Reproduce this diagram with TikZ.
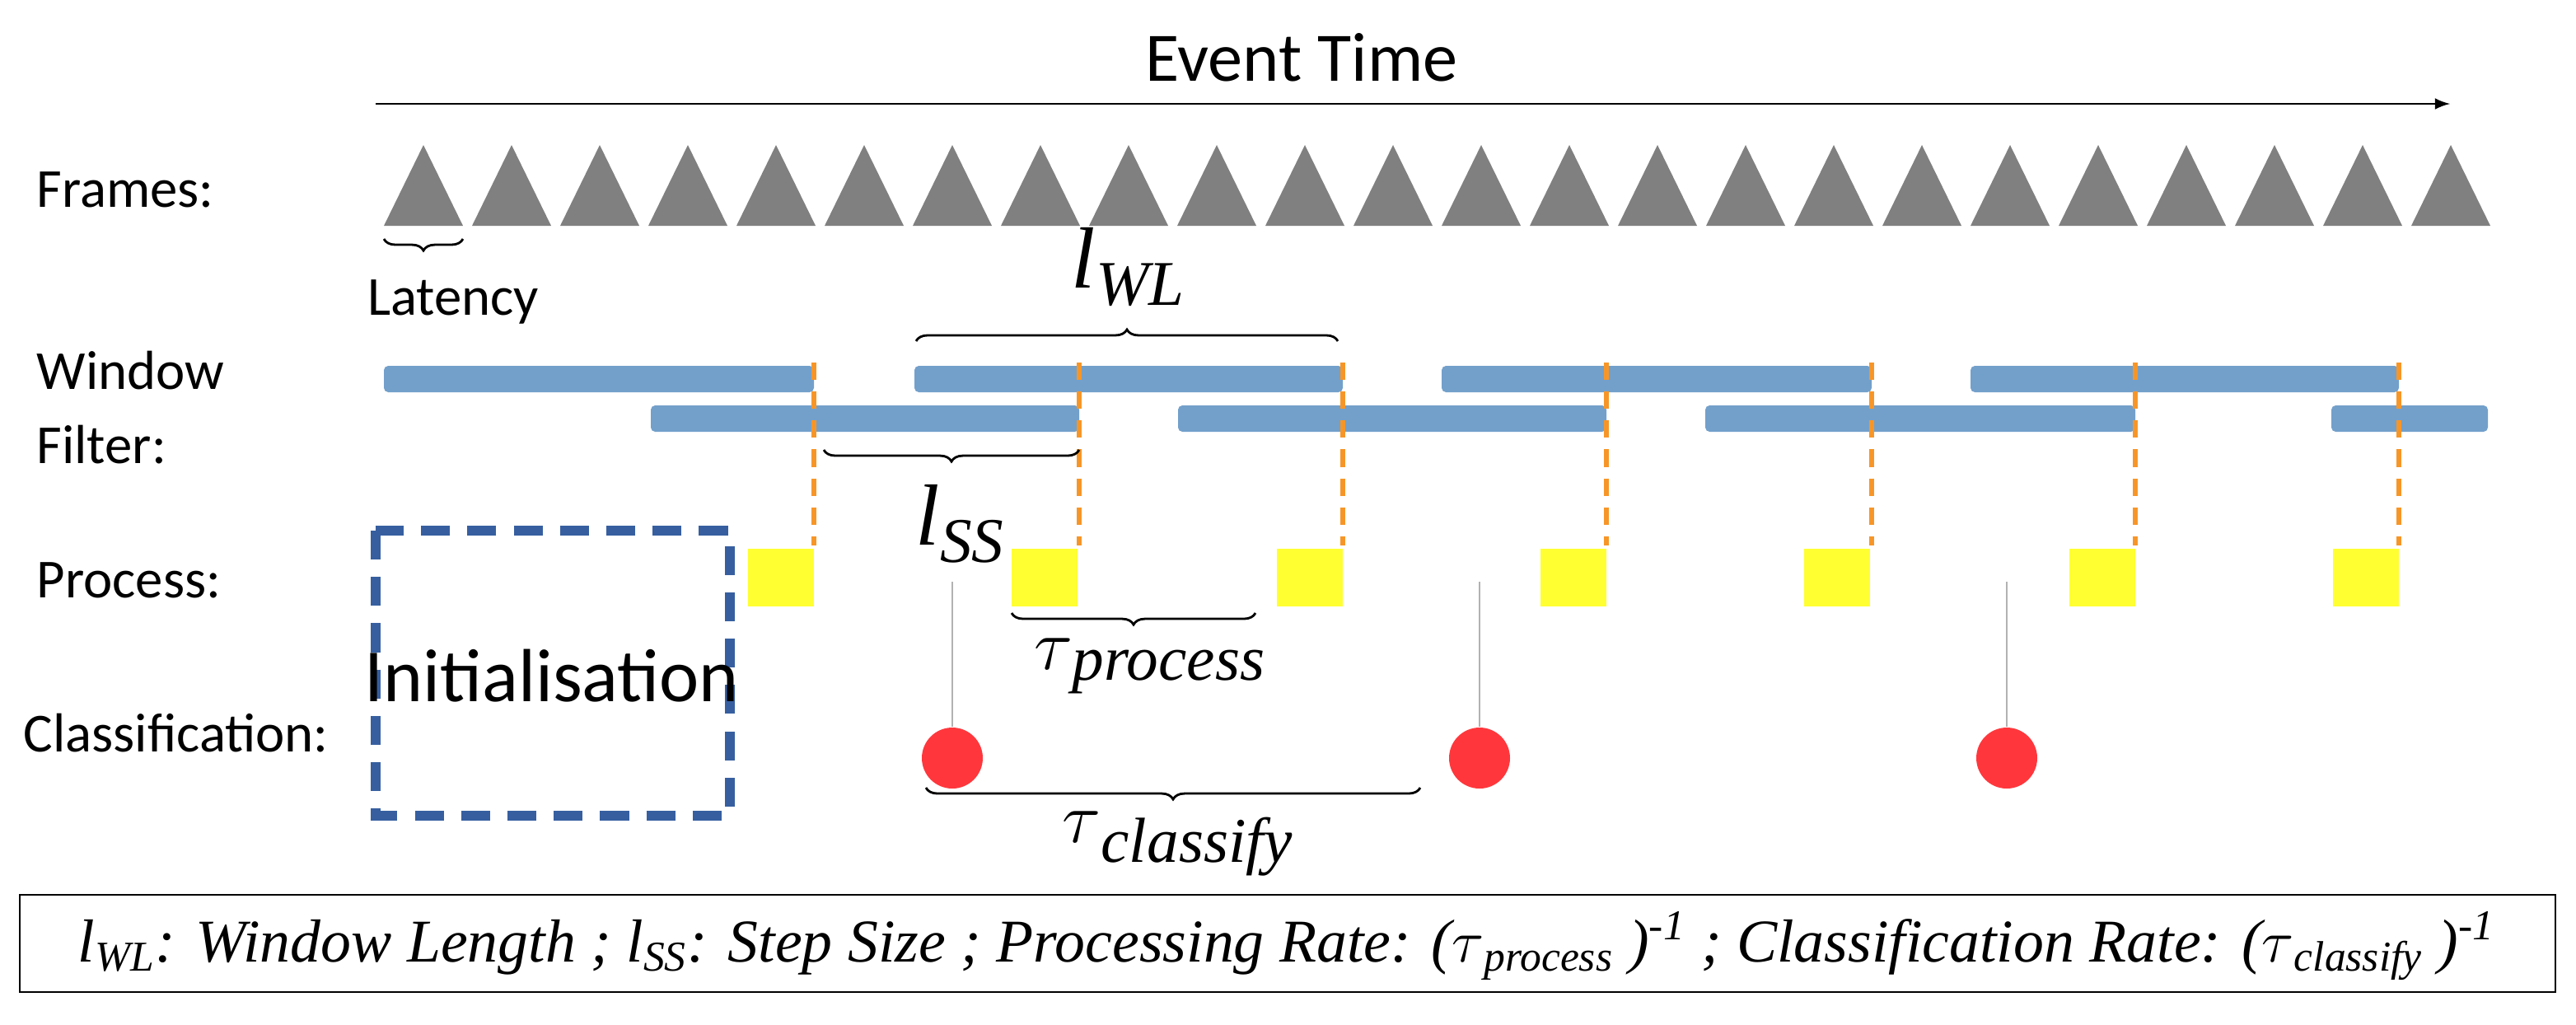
\documentclass[tikz,border=0pt]{standalone}
\usepackage{fontspec}
\setmainfont{Carlito}
\newfontfamily\tms{Liberation Serif}
\usetikzlibrary{decorations.pathreplacing}
\definecolor{bar}{RGB}{115,160,203}
\definecolor{tri}{RGB}{128,128,128}
\definecolor{org}{RGB}{247,150,40}
\definecolor{ylw}{RGB}{255,255,50}
\definecolor{rd}{RGB}{255,55,60}
\definecolor{ibox}{RGB}{55,95,160}
\tikzset{
 lab/.style={font=\fontsize{19}{22}\selectfont,anchor=west,inner sep=0},
 mth/.style={font=\tms\itshape\fontsize{30}{32}\selectfont,inner sep=0},
 br/.style={decorate,decoration={brace,amplitude=4pt},thick},
 wbar/.style={fill=bar,rounded corners=1.5pt},
 proc/.style={fill=ylw,draw=none,minimum width=0.8cm,minimum height=0.7cm,inner sep=0},
 cls/.style={circle,fill=rd,minimum size=0.74cm,inner sep=0},
 odash/.style={org,line width=1.6pt,dash pattern=on 6pt off 4pt}
}
\begin{document}
\begin{tikzpicture}[x=0.02cm,y=-0.02cm]
\useasboundingbox (0,0) rectangle (1563.5,621.5);
\node[font=\fontsize{24}{28}\selectfont] (et) at (790,35) {Event Time};
\coordinate (a1) at (228,63); \coordinate (a2) at (1487,63);
\draw[-latex,thick] (a1) -- (a2);
\node[lab] (fr) at (22,115) {Frames:};
\foreach \i in {0,...,23}{
  \fill[tri] ({233+53.5*\i},137) -- ({257+53.5*\i},88) -- ({281+53.5*\i},137) -- cycle;}
\draw[br,decoration={mirror}] (233,145) -- (281,145);
\node[lab,anchor=center] (lat) at (275,183) {Latency};
\node[lab] (wf) at (22,225) {Window};
\node[lab] (wf2) at (22,270) {Filter:};
\node[lab] (pr) at (22,352) {Process:};
\node[lab] (cl) at (14,445) {Classification:};
% bars
\foreach \a/\b in {233/494,555/815,875/1136,1196/1456}{\fill[wbar] (\a,222) rectangle (\b,238);}
\foreach \a/\b in {395/655,715/975,1035/1296,1415/1510}{\fill[wbar] (\a,246) rectangle (\b,262);}
\foreach \x in {494,655,815,975,1136,1296,1456}{\draw[odash] (\x,220) -- (\x,331);}
\foreach \x in {454,614,775,935,1095,1256,1416}{\fill[ylw] (\x,333) rectangle (\x+40,368);}
% braces
\draw[br] (556,207) -- (812,207);
\node[mth] (lwl) at (685,162) {l\textsubscript{\fontsize{22}{24}\selectfont WL}};
\draw[br,decoration={mirror}] (500,273) -- (655,273);
\node[mth] (lss) at (583,318) {l\textsubscript{\fontsize{22}{24}\selectfont SS}};
\draw[br,decoration={mirror}] (614,372) -- (762,372);
\node[mth] (tp) at (698,404) {$\tau$\textsubscript{\fontsize{22}{24}\selectfont process}};
\draw[br,decoration={mirror}] (562,478) -- (862,478);
\node[mth] (tc) at (715,512) {$\tau$\textsubscript{\fontsize{22}{24}\selectfont classify}};
% classification
\foreach \x/\n in {578/c1,898/c2,1218/c3}{
  \node[cls] (\n) at (\x,460) {};
  \coordinate (\n t) at (\x,353);
  \draw[gray!60,thin] (\n t) -- (\n);}
% init box
\draw[ibox,line width=3.2pt,dash pattern=on 10pt off 6pt] (228,322) rectangle (443,495);
\node[font=\fontsize{26}{30}\selectfont] (ini) at (335,410) {Initialisation};
% legend
\draw[thick] (12,543) rectangle (1551,602);
\node[font=\tms\itshape\fontsize{21}{24}\selectfont] (leg) at (781,574) {l\textsubscript{WL}: Window Length ; l\textsubscript{SS}: Step Size ; Processing Rate: ($\tau$\textsubscript{process} )\textsuperscript{-1} ; Classification Rate: ($\tau$\textsubscript{classify} )\textsuperscript{-1}};
\end{tikzpicture}
\end{document}
